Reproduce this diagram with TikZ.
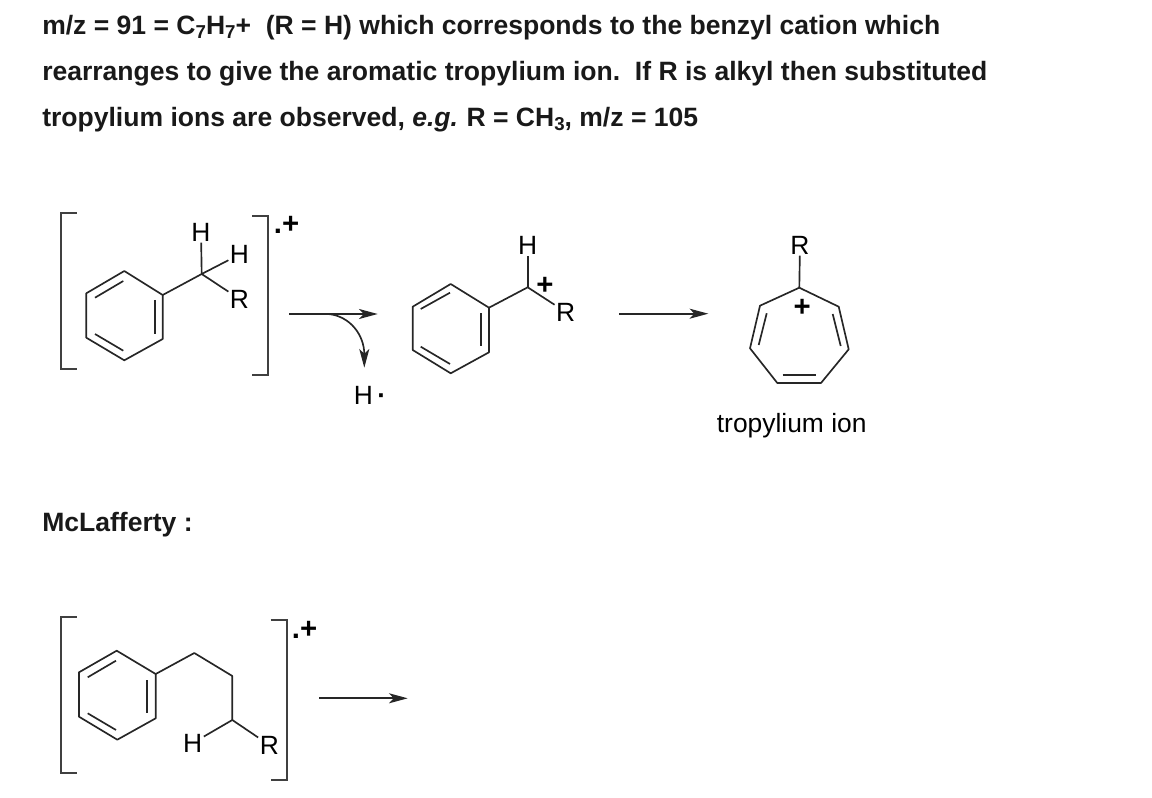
\documentclass[tikz,border=0pt]{standalone}
\usepackage{fontspec}
\setmainfont{Liberation Sans}
\usetikzlibrary{arrows.meta}
\newcommand{\lowidx}[1]{\raisebox{-0.14em}{\fontsize{14}{14}\selectfont #1}}

\begin{document}
\begin{tikzpicture} [
        x=0.75pt, y=-0.75pt,
        bond/.style={draw=black!85, line width=1.25pt, line join=round},
        brack/.style={draw=black!75, line width=1.25pt},
        rarrow/.style={draw=black!85, line width=1.25pt, -{Stealth[length=14pt, width=7.5pt, inset=3.5pt]}},
        atom/.style={font=\fontsize{19.8}{20}\selectfont, inner sep=1pt, text=black},
        charge/.style={font=\fontsize{22}{22}\bfseries\selectfont, inner sep=0pt, text=black},
        headline/.style={font=\fontsize{19.9}{24}\bfseries\selectfont, anchor=west, inner sep=0pt, text=black!90} ]
    \useasboundingbox (0,0) rectangle (1152,798);
    \node[headline] (l1) at (42,28) {m/z = 91 = C\lowidx{7}H\lowidx{7}+\ \ (R = H) which corresponds to the benzyl cation which};
    \node[headline] (l2) at (42,74) {rearranges to give the aromatic tropylium ion.\ \ If R is alkyl then substituted};
    \node[headline] (l3) at (42,120) {tropylium ions are observed, \textit{e.g.}\hspace{-1pt} R = CH\lowidx{3}, m/z = 105};
    \node[headline] (mcl) at (42,525) {McLafferty :};

    \coordinate (a1) at (124.3,271);
    \coordinate (a2) at (162.7,295);
    \coordinate (a3) at (162.7,339);
    \coordinate (a4) at (124.3,360.3);
    \coordinate (a5) at (86.3,337.7);
    \coordinate (a6) at (86.3,293.3);
    \coordinate (ac) at (201.7,274);
    \node[atom] (ah1) at (201,232) {H};
    \node[atom] (ah2) at (239.5,254.5) {H};
    \node[atom] (ar) at (239.5,299) {R};
    \draw[bond] (a1) -- (a2) -- (a3) -- (a4) -- (a5) -- (a6) -- cycle;
    \draw[bond] (95,297.7) -- (123.3,281);
    \draw[bond] (155,300) -- (155,334);
    \draw[bond] (95,334) -- (123.3,350.7);
    \draw[bond] (a2) -- (ac);
    \draw[bond] (ac) -- (ah1);
    \draw[bond] (ac) -- (ah2);
    \draw[bond] (ac) -- (ar);
    \draw[brack] (76.7,212.7) -- (61.3,212.7) -- (61.3,369.3) -- (76.7,369.3);
    \draw[brack] (252,215.7) -- (267.7,215.7) -- (267.7,375.3) -- (252,375.3);
    \node[charge] (ap) at (286.5,225) {.+};

    \coordinate (s1) at (289,314);
    \coordinate (s2) at (377.7,314);
    \coordinate (s3) at (328.3,314);
    \node[atom] (hr) at (370,395) {H\,\textbf{·}};
    \draw[rarrow] (s1) -- (s2);
    \draw[rarrow] (s3) .. controls (350,316) and (364.3,335) .. (364.3,367.7);

    \coordinate (b1) at (450.7,284);
    \coordinate (b2) at (489,307.7);
    \coordinate (b3) at (489,352.3);
    \coordinate (b4) at (450.7,373.3);
    \coordinate (b5) at (412.7,350);
    \coordinate (b6) at (412.7,306.7);
    \coordinate (bc) at (527.7,287.3);
    \node[atom] (bh) at (527.7,245) {H};
    \node[atom] (br) at (565.7,312) {R};
    \node[charge] (bp) at (545,286) {+};
    \draw[bond] (b1) -- (b2) -- (b3) -- (b4) -- (b5) -- (b6) -- cycle;
    \draw[bond] (420.7,309) -- (450,292.7);
    \draw[bond] (481,313.3) -- (481,346);
    \draw[bond] (420.7,346.7) -- (450,364);
    \draw[bond] (b2) -- (bc);
    \draw[bond] (bc) -- (bh);
    \draw[bond] (bc) -- (br);

    \coordinate (t1) at (619.3,313.7);
    \coordinate (t2) at (708.3,313.7);
    \draw[rarrow] (t1) -- (t2);

    \coordinate (c1) at (799.3,287.7);
    \coordinate (c2) at (838.7,306.7);
    \coordinate (c3) at (848.7,349.3);
    \coordinate (c4) at (821,383);
    \coordinate (c5) at (777.3,383);
    \coordinate (c6) at (750,348.3);
    \coordinate (c7) at (760,305.7);
    \node[atom] (cr) at (800,245) {R};
    \node[charge] (cp) at (802.3,308) {+};
    \node[atom, inner sep=0pt] (ion) at (791.7,426) {tropylium ion};
    \draw[bond] (c1) -- (c2) -- (c3) -- (c4) -- (c5) -- (c6) -- (c7) -- cycle;
    \draw[bond] (766.7,313.3) -- (758.7,345);
    \draw[bond] (832.7,314) -- (840.7,346);
    \draw[bond] (782.7,375) -- (816,375);
    \draw[bond] (c1) -- (cr);

    \coordinate (d1) at (116.7,650.7);
    \coordinate (d2) at (155.7,674);
    \coordinate (d3) at (155.7,718.3);
    \coordinate (d4) at (117.3,739.7);
    \coordinate (d5) at (79,716.7);
    \coordinate (d6) at (79,672.3);
    \coordinate (d7) at (194.3,653);
    \coordinate (d8) at (232.3,676);
    \coordinate (d9) at (232.3,720);
    \node[atom] (dh) at (192.7,743) {H};
    \node[atom] (dr) at (269.3,745) {R};
    \draw[bond] (d1) -- (d2) -- (d3) -- (d4) -- (d5) -- (d6) -- cycle;
    \draw[bond] (87.7,677.3) -- (116,660.7);
    \draw[bond] (147.3,680) -- (147.3,712.7);
    \draw[bond] (87.7,713.3) -- (116,730);
    \draw[bond] (d2) -- (d7) -- (d8) -- (d9);
    \draw[bond] (d9) -- (dh);
    \draw[bond] (d9) -- (dr);
    \draw[brack] (76.7,616.7) -- (61.3,616.7) -- (61.3,773.3) -- (76.7,773.3);
    \draw[brack] (270.7,620) -- (286.7,620) -- (286.7,780.3) -- (270.7,780.3);
    \node[charge] (dp) at (304.5,630) {.+};

    \coordinate (e1) at (319,698.3);
    \coordinate (e2) at (407.7,698.3);
    \draw[rarrow] (e1) -- (e2);
    \end{tikzpicture}
\end{document}
